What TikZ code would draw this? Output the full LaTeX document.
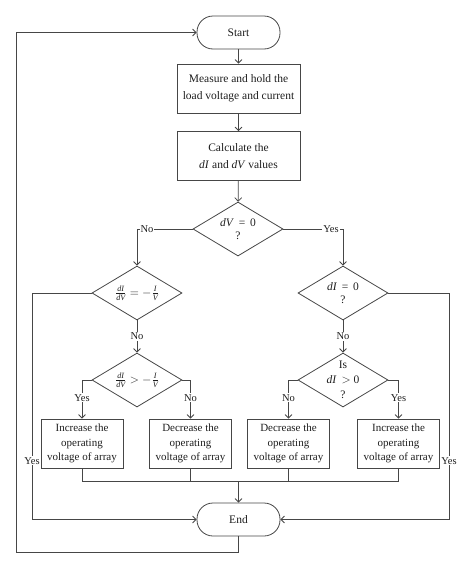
\documentclass[tikz,border=0pt]{standalone}
\usepackage{amsmath}
\usepackage{fontspec}
\setmainfont{Liberation Serif}
\usetikzlibrary{shapes,arrows.meta,positioning}
\definecolor{linegray}{RGB}{70,70,70}
\definecolor{textgray}{RGB}{30,30,30}

\begin{document}
\begin{tikzpicture}[x=1pt, y=-1pt, >={Straight Barb[length=3.5pt,width=7pt]},
  every node/.style={text=textgray, font=\fontsize{11.5}{17}\selectfont},
  term/.style={draw=linegray, line width=0.8pt, rounded corners=16pt, minimum width=83pt, minimum height=33pt},
  proc/.style={draw=linegray, line width=0.8pt, rectangle, minimum width=123pt, minimum height=49pt, align=center, inner sep=0pt},
  act/.style={proc, minimum width=82pt, font=\fontsize{11}{14.5}\selectfont},
  dec/.style={draw=linegray, line width=0.8pt, diamond, minimum width=90pt, minimum height=54pt, inner sep=0pt},
  dectext/.style={align=center, font=\fontsize{11.5}{13.5}\selectfont},
  lbl/.style={fill=white, inner sep=1pt, font=\fontsize{10.5}{12}\selectfont},
  flow/.style={draw=linegray, line width=0.8pt}]
\useasboundingbox (0,0) rectangle (474,568);

% main column
\node[term] (start) at (238.5,32.5) {Start};
\node[proc] (measure) at (238.5,88.5) {Measure and hold the\\load voltage and current};
\node[proc] (calc) at (238.5,156) {Calculate the\\\textit{dI} and \textit{dV} values};
\node[dec, label={[dectext]center:{\textit{dV}\, = \,0\\?}}] (dvzero) at (238,229) {};

% decisions
\node[dec, label={[dectext]center:{$\frac{\textit{dI}}{\textit{dV}} = -\frac{\textit{I}}{\textit{V}}$}}] (slope) at (137,293) {};
\node[dec, label={[dectext]center:{\textit{dI}\, = \,0\\?}}] (dizero) at (343,293) {};
\node[dec, label={[dectext]center:{$\frac{\textit{dI}}{\textit{dV}} > -\frac{\textit{I}}{\textit{V}}$}}] (slopegt) at (137,380) {};
\node[dec, label={[dectext, font=\fontsize{11.5}{15}\selectfont]center:{Is\\\textit{dI}\, $>$ 0\\?}}] (digt) at (343,380) {};

% actions
\node[act] (incl) at (82,443.5) {Increase the\\operating\\voltage of array};
\node[act] (decl) at (190.5,443.5) {Decrease the\\operating\\voltage of array};
\node[act] (decr) at (288.5,443.5) {Decrease the\\operating\\voltage of array};
\node[act] (incr) at (398.5,443.5) {Increase the\\operating\\voltage of array};

\node[term] (end) at (238.5,519.5) {End};

\coordinate (merge) at (238.5,481);
\coordinate (lside) at (32,519.5);
\coordinate (rside) at (449,519.5);
\coordinate (loop) at (16,552);

% connectors
\draw[flow,->] (start) -- (measure);
\draw[flow,->] (measure) -- (calc);
\draw[flow,->] (calc) -- (dvzero);
\draw[flow,->] (dvzero.west) -| node[lbl, pos=0.41] {No} (slope.north);
\draw[flow,->] (dvzero.east) -| node[lbl, pos=0.4] {Yes} (dizero.north);
\draw[flow,->] (slope.south) -- node[lbl] {No} (slopegt.north);
\draw[flow,->] (dizero.south) -- node[lbl] {No} (digt.north);
\draw[flow,->] (slopegt.west) -| node[lbl, pos=0.73] {Yes} (incl.north);
\draw[flow,->] (slopegt.east) -| node[lbl, pos=0.73] {No} (decl.north);
\draw[flow,->] (digt.west) -| node[lbl, pos=0.73] {No} (decr.north);
\draw[flow,->] (digt.east) -| node[lbl, pos=0.73] {Yes} (incr.north);
\draw[flow,->] (slope.west) -| node[lbl, pos=0.87] {Yes} (lside) -- (end.west);
\draw[flow,->] (dizero.east) -| node[lbl, pos=0.87] {Yes} (rside) -- (end.east);

% merge into end
\draw[flow] (incl.south) |- (incr.south |- merge) -- (incr.south);
\draw[flow] (decl.south) -- (decl.south |- merge);
\draw[flow] (decr.south) -- (decr.south |- merge);
\draw[flow,->] (merge) -- (end);

% back to start
\draw[flow,->] (end.south) |- (loop) |- (start.west);
\end{tikzpicture}
\end{document}
